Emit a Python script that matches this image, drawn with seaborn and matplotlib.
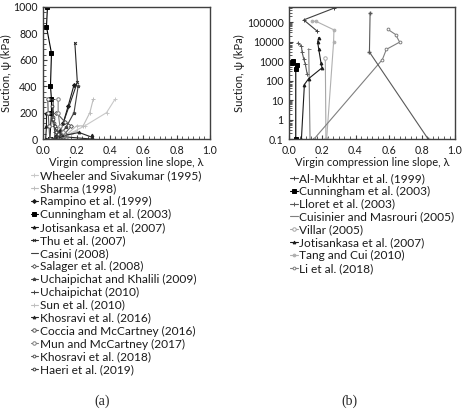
import numpy as np
import pandas as pd
import seaborn as sns
import matplotlib.pyplot as plt
from matplotlib.ticker import MultipleLocator, LogLocator, FixedLocator, NullFormatter

# ---------------- data: panel (a), linear suction ----------------
a_names = ["Wheeler and Sivakumar (1995)", "Sharma (1998)", "Rampino et al. (1999)",
           "Cunningham et al. (2003)", "Jotisankasa et al. (2007)", "Thu et al. (2007)",
           "Casini (2008)", "Salager et al. (2008)", "Uchaipichat and Khalili (2009)",
           "Uchaipichat (2010)", "Sun et al. (2010)", "Khosravi et al. (2016)",
           "Coccia and McCartney (2016)", "Mun and McCartney (2017)",
           "Khosravi et al. (2018)", "Haeri et al. (2019)"]
a_lam = [
    [0.43, 0.38, 0.25, 0.15, 0.10],
    [0.30, 0.28, 0.24, 0.20, 0.12],
    [0.185, 0.15, 0.12, 0.10, 0.08],
    [0.026, 0.02, 0.05, 0.044, 0.05, 0.05, 0.04],
    [0.02, 0.02, 0.015, 0.03],
    [0.19, 0.205, 0.12, 0.095, 0.08],
    [0.06, 0.06, 0.065, 0.07, 0.07],
    [0.08, 0.13, 0.17, 0.13, 0.10],
    [0.21, 0.185, 0.14, 0.11, 0.06],
    [0.05, 0.07, 0.09, 0.11],
    [0.20, 0.17, 0.13, 0.09],
    [0.29, 0.29, 0.215, 0.10, 0.29],
    [0.028, 0.03, 0.035, 0.04],
    [0.09, 0.09, 0.10, 0.12, 0.14],
    [0.06, 0.065, 0.075, 0.09, 0.12],
    [0.055, 0.06, 0.07, 0.08, 0.09],
]
a_psi = [
    [300, 200, 100, 35, 0],
    [300, 200, 100, 100, 10],
    [410, 250, 120, 60, 20],
    [1000, 850, 650, 400, 300, 200, 0],
    [200, 100, 0, 0],
    [730, 430, 120, 50, 0],
    [300, 200, 100, 50, 0],
    [200, 130, 100, 40, 10],
    [400, 200, 95, 45, 0],
    [150, 100, 50, 0],
    [60, 40, 20, 0],
    [30, 15, 50, 20, 0],
    [300, 200, 100, 0],
    [300, 200, 100, 50, 0],
    [170, 120, 80, 40, 0],
    [250, 150, 100, 50, 0],
]

# ---------------- data: panel (b), log suction ----------------
b_names = ["Al-Mukhtar et al. (1999)", "Cunningham et al. (2003)", "Lloret et al. (2003)",
           "Cuisinier and Masrouri (2005)", "Villar (2005)", "Jotisankasa et al. (2007)",
           "Tang and Cui (2010)", "Li et al. (2018)"]
b_lam = [
    [0.268, 0.088, 0.168],
    [0.015, 0.025, 0.02, 0.046, 0.04, 0.04],
    [0.054, 0.074, 0.078, 0.088, 0.098, 0.108],
    [0.118, 0.126],
    [0.218, 0.222],
    [0.178, 0.172, 0.178, 0.192, 0.198, 0.118, 0.092, 0.074],
    [0.138, 0.162, 0.27, 0.268, 0.226],
    [0.596, 0.642, 0.666, 0.586, 0.562, 0.15],
]
b_psi = [
    [510000, 130000, 35000],
    [800, 1000, 900, 650, 400, 0.1],
    [8700, 5900, 2900, 1300, 670, 230],
    [4300, 0.1],
    [1480, 0.1],
    [16000, 9800, 4300, 810, 450, 127, 63, 0.1],
    [110000, 110000, 40000, 9400, 0.1],
    [42000, 23000, 9400, 4000, 1200, 0.1],
]
# extra (b) series drawn without legend entry
x_lam = [0.488, 0.484, 0.838]
x_psi = [300000, 2900, 0.1]

a_style = [
    ("#c8c8c8", "+", 2.5, "#c8c8c8"), ("#bdbdbd", "+", 2.5, "#bdbdbd"),
    ("#1a1a1a", "D", 2, "#1a1a1a"), ("#000000", "s", 3, "#000000"),
    ("#1a1a1a", "^", 2, "#1a1a1a"), ("#262626", "x", 2, "#262626"),
    ("#404040", "_", 2.5, "#404040"), ("#595959", "D", 2, "white"),
    ("#404040", "*", 2.5, "#404040"), ("#404040", "|", 2.5, "#404040"),
    ("#bfbfbf", "+", 2.5, "#bfbfbf"), ("#262626", "^", 2, "#262626"),
    ("#595959", "o", 2.5, "white"), ("#7f7f7f", "o", 2.5, "white"),
    ("#595959", "o", 2, "white"), ("#404040", "o", 2, "white"),
]
b_style = [
    ("#404040", "+", 2.5, "#404040"), ("#000000", "s", 3, "#000000"),
    ("#595959", "+", 2.5, "#595959"), ("#7f7f7f", "_", 2.5, "#7f7f7f"),
    ("#a6a6a6", "o", 2.5, "white"), ("#1a1a1a", "^", 2, "#1a1a1a"),
    ("#b0b0b0", "o", 2, "#b0b0b0"), ("#7f7f7f", "o", 2, "white"),
]

sns.set_style("ticks")
plt.rcParams["font.family"] = ["Lato", "DejaVu Sans"]

fig = plt.figure(figsize=(4.74, 4.09), dpi=100)
ax1 = fig.add_axes([0.091, 0.660, 0.352, 0.323])
ax2 = fig.add_axes([0.610, 0.660, 0.350, 0.323])


def draw(ax, names, lams, psis, styles):
    for name, lam, psi, (c, m, ms, fc) in zip(names, lams, psis, styles):
        df = pd.DataFrame({"lam": lam, "psi": psi})
        sns.lineplot(data=df, x="lam", y="psi", ax=ax, sort=False, estimator=None,
                     color=c, marker=m, markersize=ms, mfc=fc, mec=c, mew=0.7,
                     linewidth=0.8, label=name)


draw(ax1, a_names, a_lam, a_psi, a_style)
draw(ax2, b_names, b_lam, b_psi, b_style)
ax2.plot(x_lam, x_psi, color="#595959", marker="+", markersize=2.5, linewidth=0.8)

for ax in (ax1, ax2):
    ax.set_xlim(0, 1.0)
    ax.xaxis.set_major_locator(MultipleLocator(0.2))
    ax.xaxis.set_minor_locator(MultipleLocator(0.2 / 6))
    ax.tick_params(which="both", direction="in", labelsize=7.6, colors="#404040",
                   labelcolor="#1a1a1a", pad=4)
    ax.tick_params(which="major", length=3)
    ax.tick_params(which="minor", length=2)
    for s in ax.spines.values():
        s.set_visible(True)
        s.set_linewidth(1.0)
        s.set_color("#404040")
    ax.set_xlabel("Virgin compression line slope, λ", fontsize=8.0, labelpad=1, color="#1a1a1a")
    ax.set_ylabel("Suction, ψ (kPa)", fontsize=8.0, labelpad=1, color="#1a1a1a")
    ax.xaxis.set_major_formatter(plt.FuncFormatter(lambda v, p: f"{v:.1f}"))

ax1.set_ylim(0, 1000)
ax1.yaxis.set_major_locator(MultipleLocator(200))
ax1.yaxis.set_minor_locator(MultipleLocator(40))

ax2.set_yscale("log")
ax2.set_ylim(0.1, 600000)
ax2.yaxis.set_major_locator(FixedLocator([0.1, 1, 10, 100, 1000, 10000, 100000]))
ax2.yaxis.set_major_formatter(plt.FuncFormatter(lambda v, p: f"{v:g}" if v < 1 else f"{int(round(v))}"))
ax2.yaxis.set_minor_locator(LogLocator(base=10, subs=np.arange(2, 10), numticks=20))
ax2.yaxis.set_minor_formatter(NullFormatter())

leg1 = ax1.legend(loc="upper left", bbox_to_anchor=(0.052, 0.598), bbox_transform=fig.transFigure,
                  frameon=False, fontsize=8.6, handlelength=0.6, handletextpad=0.15,
                  labelspacing=0.16, borderpad=0)
leg2 = ax2.legend(loc="upper left", bbox_to_anchor=(0.600, 0.592), bbox_transform=fig.transFigure,
                  frameon=False, fontsize=8.6, handlelength=0.6, handletextpad=0.15,
                  labelspacing=0.16, borderpad=0)
for leg in (leg1, leg2):
    for t in leg.get_texts():
        t.set_color("#1a1a1a")

fig.text(0.215, 0.010, "(a)", ha="center", fontsize=10, family="Liberation Serif")
fig.text(0.737, 0.010, "(b)", ha="center", fontsize=10, family="Liberation Serif")

fig.savefig("out.png", dpi=100)
